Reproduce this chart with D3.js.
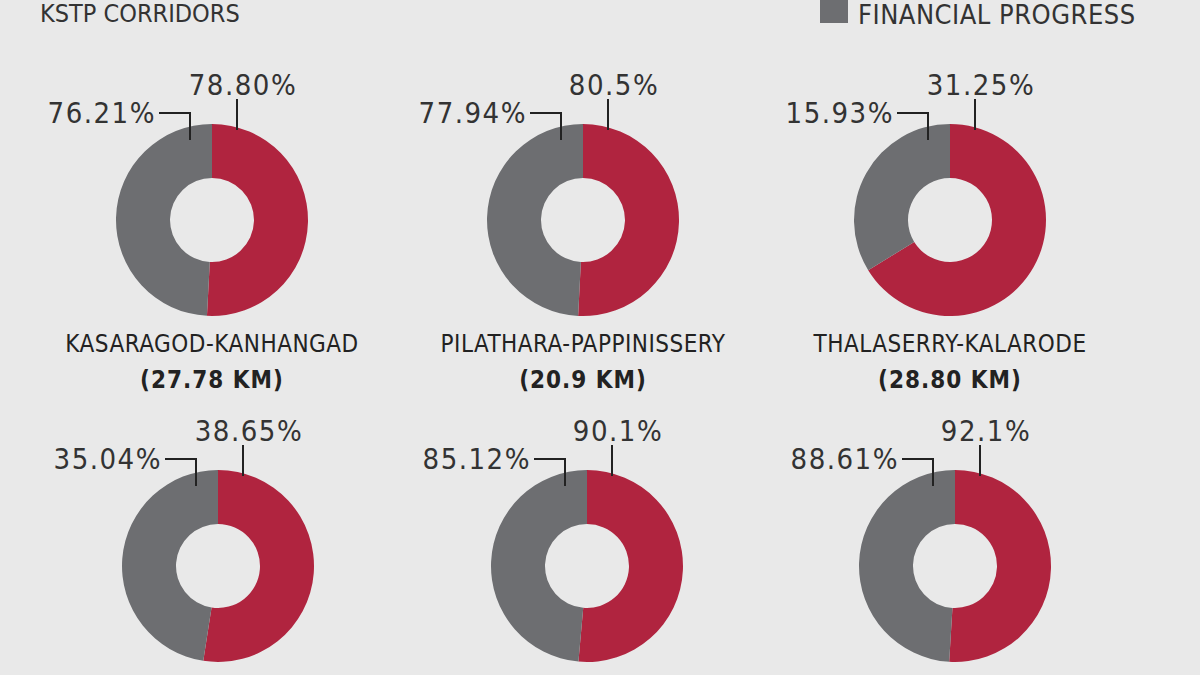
<!DOCTYPE html>
<html><head><meta charset="utf-8">
<script src="https://cdn.jsdelivr.net/npm/d3@7"></script>
<style>body{margin:0;background:#e9e9e9}svg{display:block}</style>
</head><body>
<svg id="chart" width="1200" height="675"></svg>
<script>
const corridors = ['KASARAGOD-KANHANGAD', 'PILATHARA-PAPPINISSERY', 'THALASERRY-KALARODE', '', '', '']
const lengths = ['(27.78 KM)', '(20.9 KM)', '(28.80 KM)', '', '', '']
const physical = ['78.80%', '80.5%', '31.25%', '38.65%', '90.1%', '92.1%']
const financial = ['76.21%', '77.94%', '15.93%', '35.04%', '85.12%', '88.61%']
const centers = [[212, 220], [583, 220], [950, 220], [218, 566], [587, 566], [955, 566]]

const red = '#b0243f', grey = '#6d6e71'
const font = '"Liberation Sans Narrow", "DejaVu Sans Condensed", sans-serif'
const svg = d3.select('#chart')

svg.append('text').attr('x', 40).attr('y', 22).attr('font-family', font)
	.attr('font-size', 25).attr('fill', '#333').text('KSTP CORRIDORS')
svg.append('rect').attr('x', 820).attr('y', 0).attr('width', 28).attr('height', 23).attr('fill', grey)
svg.append('text').attr('x', 858).attr('y', 24).attr('font-family', font)
	.attr('font-size', 27).attr('fill', '#333').attr('letter-spacing', 0.5).text('FINANCIAL PROGRESS')

const pie = d3.pie().sort(null).value(d => d)
const arc = d3.arc().innerRadius(42).outerRadius(96)

physical.forEach((p, i) => {
	const [cx, cy] = centers[i]
	const vals = [parseFloat(p), parseFloat(financial[i])]
	const g = svg.append('g').attr('transform', `translate(${cx},${cy})`)
	g.selectAll('path').data(pie(vals)).enter().append('path')
		.attr('d', arc).attr('fill', (d, j) => j === 0 ? red : grey)

	g.append('path').attr('d', `M25,-121V-90`).attr('stroke', '#222').attr('stroke-width', 2).attr('fill', 'none')
	g.append('path').attr('d', `M-53,-107H-22V-80`).attr('stroke', '#222').attr('stroke-width', 2).attr('fill', 'none')
	g.append('text').attr('x', 31).attr('y', -125).attr('text-anchor', 'middle')
		.attr('font-family', font).attr('font-size', 29).attr('letter-spacing', 1.5).attr('fill', '#333').text(p)
	g.append('text').attr('x', -56).attr('y', -97).attr('text-anchor', 'end')
		.attr('font-family', font).attr('font-size', 29).attr('letter-spacing', 1.5).attr('fill', '#333').text(financial[i])
	g.append('text').attr('x', 0).attr('y', 132).attr('text-anchor', 'middle')
		.attr('font-family', font).attr('font-size', 24).attr('letter-spacing', 0.5).attr('fill', '#222').text(corridors[i])
	g.append('text').attr('x', 0).attr('y', 168).attr('text-anchor', 'middle').attr('font-weight', 'bold')
		.attr('font-family', font).attr('font-size', 24).attr('letter-spacing', 1).attr('fill', '#222').text(lengths[i])
})
</script>
</body></html>
